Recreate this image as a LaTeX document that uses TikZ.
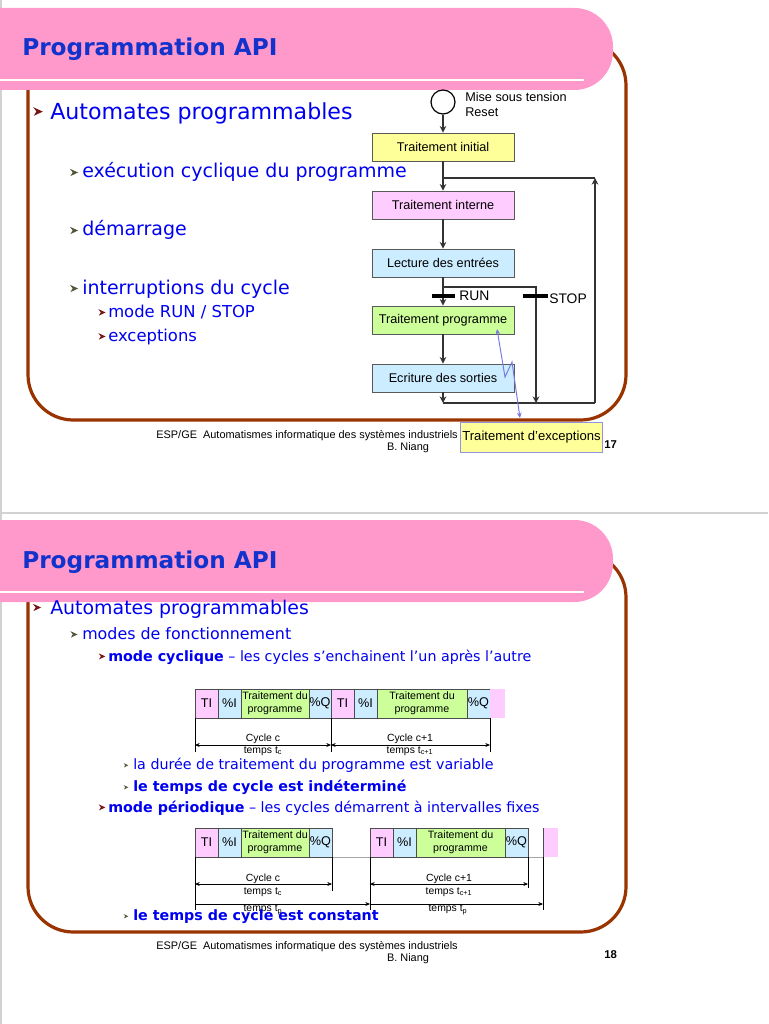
\documentclass[tikz,border=0pt]{standalone}
\usepackage{fontspec}
\setmainfont{DejaVu Sans}
\newfontfamily\arial{Liberation Sans}
\usetikzlibrary{arrows.meta}
\definecolor{bannerpink}{HTML}{FF99CC}
\definecolor{titleblue}{HTML}{1133CC}
\definecolor{bodyblue}{HTML}{0000F0}
\definecolor{framebrown}{HTML}{993300}
\definecolor{byellow}{HTML}{FFFF99}
\definecolor{bpink}{HTML}{FFCCFF}
\definecolor{bblue}{HTML}{CCECFF}
\definecolor{bgreen}{HTML}{CCFF99}
\definecolor{excblue}{HTML}{7777DD}
\definecolor{bulred}{HTML}{7A1414}
\definecolor{bulolive}{HTML}{55553A}
\definecolor{flowgrey}{HTML}{333333}
\newcommand\fsz[1]{\fontsize{#1}{1.2\dimexpr#1pt\relax}\selectfont}
\newcommand\tseg[7]{%
  \draw[tbox,fill=#5] (#1,#3) rectangle (#2,#4);
  \node[tlab] (#7) at ({(#1+#2)/2},{(#3+#4)/2}) {#6};}
\begin{document}
\begin{tikzpicture}[x=0.75pt,y=-0.75pt,
  frame/.style={draw=framebrown,line width=2.4pt,rounded corners=34pt},
  banner/.style={fill=bannerpink,rounded corners=29pt},
  ttl/.style={text=titleblue,inner sep=0,font=\bfseries\fsz{17.4}},
  bul/.pic={\path[pic actions] (-4.8,-3.8) -- (4.8,0.6) -- (-4.2,4.8) -- (-1.6,0.4) -- cycle;},
  txt/.style={text=bodyblue,inner sep=0},
  fbox/.style={draw=gray!70!black,line width=0.6pt,minimum width=106.5pt,minimum height=21pt,inner sep=0,font=\arial\fsz{9.5}},
  flow/.style={draw=flowgrey,line width=0.9pt},
  arr/.style={flow,-{Stealth[length=5pt,width=5pt]}},
  bar/.style={fill=black,minimum height=3.6pt,inner sep=0},
  rs/.style={inner sep=0,font=\arial\fsz{10.4}},
  excl/.style={draw=excblue,line width=0.7pt,{Stealth[length=4pt,width=3.5pt]}-{Stealth[length=4pt,width=3.5pt]}},
  foot/.style={inner sep=0,font=\arial\fsz{8.2}},
  tbox/.style={draw=gray!60!black,line width=0.6pt},
  tlab/.style={inner sep=0,align=center,font=\arial\fontsize{8}{9.75}\selectfont},
  tick/.style={draw=black,line width=0.5pt},
  tarr/.style={tick,{Stealth[length=3.5pt,width=3pt]}-{Stealth[length=3.5pt,width=3pt]}},
  tarrr/.style={tick,-{Stealth[length=3.5pt,width=3pt]}},
  tsm/.style={inner sep=0,font=\arial\fsz{7.8}}]
\useasboundingbox (0,0) rectangle (768,1024);
\fill[white] (0,0) rectangle (768,1024);
% page borders
\draw[gray!35,line width=0.8pt] (1,0) -- (1,1024);
\draw[gray!35,line width=0.8pt] (0,513) -- (768,513);

% ================= SLIDE 1 =================
\draw[frame] (28,40) rectangle (626,420);
\fill[banner] (-60,8) rectangle (613,90);
\draw[white,line width=1.4pt] (0,80) -- (584,80);
\node[ttl,anchor=base west] (title1) at (22,56) {Programmation API};

\pic[fill=bulred] at (38,111) {bul};
\node[txt,anchor=base west,font=\fsz{16.6}] (a1) at (50,119) {Automates programmables};
\pic[fill=bulolive,scale=0.85] at (74,172) {bul};
\node[txt,anchor=base west,font=\fsz{14.25}] (a2) at (82,177) {exécution cyclique du programme};
\pic[fill=bulolive,scale=0.85] at (74,230) {bul};
\node[txt,anchor=base west,font=\fsz{14.25}] (a3) at (82,235) {démarrage};
\pic[fill=bulolive,scale=0.85] at (74,288) {bul};
\node[txt,anchor=base west,font=\fsz{14.25}] (a4) at (82,294) {interruptions du cycle};
\pic[fill=bulred,scale=0.75] at (102,312) {bul};
\node[txt,anchor=base west,font=\fsz{12.3}] (a5) at (108,317) {mode RUN / STOP};
\pic[fill=bulred,scale=0.75] at (102,336) {bul};
\node[txt,anchor=base west,font=\fsz{12.3}] (a6) at (108,341) {exceptions};

% flowchart
\node[circle,draw=black,line width=0.9pt,minimum size=18pt,inner sep=0] (start) at (443,102) {};
\node[inner sep=0,anchor=west,align=left,font=\arial\fontsize{9.5}{11.25}\selectfont] (mise) at (465,104.5) {Mise sous tension\\Reset};
\node[fbox,fill=byellow] (ti) at (443,147) {Traitement initial};
\node[fbox,fill=bpink] (tint) at (443,205) {Traitement interne};
\node[fbox,fill=bblue] (lec) at (443,263) {Lecture des entrées};
\node[fbox,fill=bgreen] (tp) at (443,320) {Traitement programme};
\node[fbox,fill=bblue] (ecr) at (443,378) {Ecriture des sorties};
\coordinate (j1) at (443,178);
\coordinate (j2) at (443,287);
\coordinate (b1) at (443,403);
\coordinate (b2) at (536,403);
\coordinate (b3) at (595,403);
\coordinate (b4) at (595,178);
\draw[arr] (start) -- (ti);
\draw[arr] (ti) -- (tint);
\draw[arr] (tint) -- (lec);
\draw[arr] (lec) -- (tp);
\draw[arr] (tp) -- (ecr);
\draw[arr] (ecr) -- (b1);
\draw[arr] (j2) -| (b2);
\draw[flow] (b1) -- (b3);
\draw[arr] (b3) -- (b4);
\draw[flow] (b4) -- (j1);
\node[bar,minimum width=17pt] (runbar) at (443.5,296) {};
\node[rs,anchor=west] (run) at (459,296) {RUN};
\node[bar,minimum width=18.5pt] (stopbar) at (535.5,296) {};
\node[rs,anchor=west] (stop) at (549,298.5) {STOP};
\node[draw=excblue!80,line width=0.6pt,fill=byellow,minimum width=107pt,minimum height=22pt,inner sep=0,font=\arial\fsz{9.8}] (exc) at (531.5,437.5) {Traitement d’exceptions};
\coordinate (e1) at (497,329);
\coordinate (e4) at (520,418);
\draw[excl] (e1) -- (505,377) -- (512,362) -- (e4);

\node[foot,anchor=base east] (f1) at (458,438) {ESP/GE\ \ Automatismes informatique des systèmes industriels};
\node[foot,anchor=base] (f2) at (408,450) {B. Niang};
\node[foot,anchor=base west,font=\arial\bfseries\fsz{8.5}] (p17) at (604,448) {17};

% ================= SLIDE 2 =================
\draw[frame] (28,552) rectangle (626,932);
\fill[banner] (-60,520) rectangle (613,602);
\draw[white,line width=1.4pt] (0,592) -- (584,592);
\node[ttl,anchor=base west] (title2) at (22,568) {Programmation API};

\pic[fill=bulred,scale=0.85] at (37,607) {bul};
\node[txt,anchor=base west,font=\fsz{14.2}] (b1t) at (50,614) {Automates programmables};
\pic[fill=bulolive,scale=0.75] at (74,634) {bul};
\node[txt,anchor=base west,font=\fsz{11.9}] (b2t) at (82,639) {modes de fonctionnement};
\pic[fill=bulred,scale=0.7] at (102,656) {bul};
\node[txt,anchor=base west,font=\fsz{10.7}] (b3t) at (108,661) {\textbf{mode cyclique} – les cycles s’enchainent l’un après l’autre};

% timing diagram 1
\tseg{195}{218}{689}{718}{bpink}{\fsz{9.5}TI}{d1a}
\tseg{218}{241}{689}{718}{bblue}{\fsz{9.5}\%I}{d1b}
\tseg{241}{309}{689}{718}{bgreen}{Traitement du\\programme}{d1c}
\tseg{309}{331}{689}{718}{bblue}{\fsz{9.5}\%Q}{d1d}
\tseg{331}{354}{689}{718}{bpink}{\fsz{9.5}TI}{d1e}
\tseg{354}{377}{689}{718}{bblue}{\fsz{9.5}\%I}{d1f}
\tseg{377}{467}{689}{718}{bgreen}{Traitement du\\programme}{d1g}
\tseg{467}{490}{689}{718}{bblue}{\fsz{9.5}\%Q}{d1h}
\fill[bpink] (490.3,689) rectangle (505,718);
\draw[tick] (195,718) -- (195,752);
\draw[tick] (331,718) -- (331,752);
\draw[tick] (490,718) -- (490,752);
\draw[tarr] (195,745) -- (331,745);
\draw[tarr] (331,745) -- (490,745);
\node[tsm] (c1) at (263,739) {Cycle c};
\node[tsm] (tc1) at (263,751) {temps t\textsubscript{c}};
\node[tsm] (c2) at (410,739) {Cycle c+1};
\node[tsm] (tc2) at (410,751) {temps t\textsubscript{c+1}};

\pic[fill=bulolive,scale=0.5] at (126,765) {bul};
\node[txt,anchor=base west,font=\fsz{10.7}] (b4t) at (133,769) {la durée de traitement du programme est variable};
\pic[fill=bulolive,scale=0.5] at (126,787) {bul};
\node[txt,anchor=base west,font=\bfseries\fsz{10.7}] (b5t) at (133,791) {le temps de cycle est indéterminé};
\pic[fill=bulred,scale=0.7] at (102,807) {bul};
\node[txt,anchor=base west,font=\fsz{10.7}] (b6t) at (108,812) {\textbf{mode périodique} – les cycles démarrent à intervalles fixes};

% timing diagram 2
\draw[gray!70,line width=0.6pt] (332,857) -- (370,857);
\draw[gray!70,line width=0.6pt] (528,857) -- (543,857);
\tseg{195}{218}{828}{857}{bpink}{\fsz{9.5}TI}{d2a}
\tseg{218}{241}{828}{857}{bblue}{\fsz{9.5}\%I}{d2b}
\tseg{241}{309}{828}{857}{bgreen}{Traitement du\\programme}{d2c}
\tseg{309}{332}{828}{857}{bblue}{\fsz{9.5}\%Q}{d2d}
\tseg{370}{393}{828}{857}{bpink}{\fsz{9.5}TI}{d2e}
\tseg{393}{416}{828}{857}{bblue}{\fsz{9.5}\%I}{d2f}
\tseg{416}{505}{828}{857}{bgreen}{Traitement du\\programme}{d2g}
\tseg{505}{528}{828}{857}{bblue}{\fsz{9.5}\%Q}{d2h}
\fill[bpink] (543,828) rectangle (558,857);
\draw[tbox] (543,828) -- (543,857);
\draw[tick] (195,857) -- (195,910);
\draw[tick] (332,857) -- (332,891);
\draw[tick] (370,857) -- (370,910);
\draw[tick] (528,857) -- (528,888);
\draw[tick] (543,857) -- (543,910);
\draw[tarr] (195,884) -- (332,884);
\draw[tarr] (370,884) -- (528,884);
\draw[tarrr] (195,904) -- (370,904);
\draw[tarrr] (370,904) -- (543,904);
\node[tsm] (c3) at (263,879) {Cycle c};
\node[tsm] (tc3) at (263,892) {temps t\textsubscript{c}};
\node[tsm] (c4) at (449,879) {Cycle c+1};
\node[tsm] (tc4) at (449,892) {temps t\textsubscript{c+1}};
\node[tsm] (tp3) at (263,910) {temps t\textsubscript{p}};
\node[tsm] (tp4) at (448,910) {temps t\textsubscript{p}};

\pic[fill=bulolive,scale=0.5] at (126,916) {bul};
\node[txt,anchor=base west,font=\bfseries\fsz{10.7}] (b7t) at (133,920) {le temps de cycle est constant};

\node[foot,anchor=base east] (f3) at (458,949) {ESP/GE\ \ Automatismes informatique des systèmes industriels};
\node[foot,anchor=base] (f4) at (408,961) {B. Niang};
\node[foot,anchor=base west,font=\arial\bfseries\fsz{8.5}] (p18) at (604,958) {18};
\end{tikzpicture}
\end{document}
